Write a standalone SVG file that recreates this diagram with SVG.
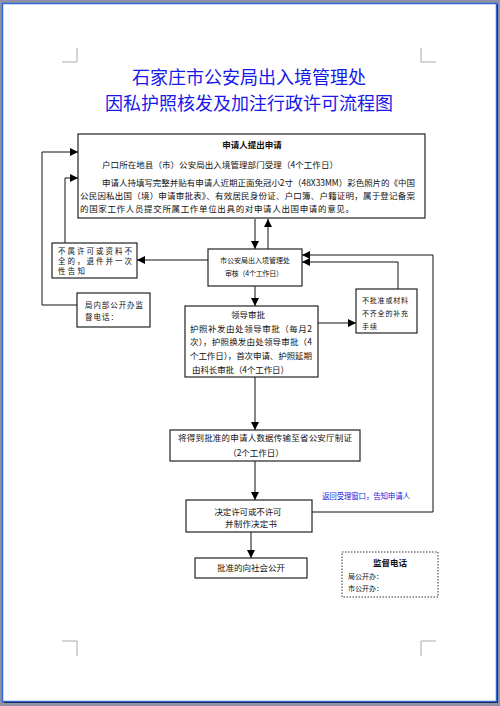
<svg xmlns="http://www.w3.org/2000/svg" width="500" height="706" viewBox="0 0 500 706">
<style>
.t{font-family:"Noto Sans CJK SC","Liberation Sans",sans-serif;font-size:8.5px;fill:#111}
.s{font-size:7px}
.m{font-size:7.5px}
.b{font-weight:bold}
.box{fill:#fff;stroke:#222;stroke-width:1.2}
.ln{fill:none;stroke:#111;stroke-width:1}
.title{font-family:"Noto Sans CJK SC","Liberation Sans",sans-serif;font-size:18px;fill:#1818e8;text-anchor:middle}
.mark{fill:none;stroke:#aaa;stroke-width:1}
</style>
<defs>
<marker id="ah" viewBox="0 0 10 10" refX="10" refY="5" markerWidth="8" markerHeight="8" markerUnits="userSpaceOnUse" orient="auto">
<path d="M0,0 L10,5 L0,10 z" fill="#000"/>
</marker>
</defs>
<rect x="0" y="0" width="500" height="706" fill="#8f92a6"/>
<rect x="4" y="4" width="494" height="699" fill="#1a1a30"/>
<rect x="2.5" y="3.5" width="494" height="698" fill="#fff" stroke="#2e68d2" stroke-width="1.5"/>
<g id="cornermarks">
<path class="mark" d="M77,48 V62 H62"/>
<path class="mark" d="M421,48 V62 H436"/>
<path class="mark" d="M62,641 H77 V656"/>
<path class="mark" d="M436,641 H421 V656"/>
</g>
<g id="title">
<text class="title" x="249" y="84">石家庄市公安局出入境管理处</text>
<text class="title" x="249" y="110">因私护照核发及加注行政许可流程图</text>
</g>
<g id="connectors">
<path class="ln" d="M65,243 V178 H78" marker-end="url(#ah)"/>
<path class="ln" d="M77,305 H42 V152 H78" marker-end="url(#ah)"/>
<path class="ln" d="M255,219 V249" marker-end="url(#ah)"/>
<path class="ln" d="M268,249 V219" marker-end="url(#ah)"/>
<path class="ln" d="M208,260 H137" marker-end="url(#ah)"/>
<path class="ln" d="M255,286 V306" marker-end="url(#ah)"/>
<path class="ln" d="M318,323 H356" marker-end="url(#ah)"/>
<path class="ln" d="M398,289 V262 H302" marker-end="url(#ah)"/>
<path class="ln" d="M312,512 H433 V255 H302" marker-end="url(#ah)"/>
<path class="ln" d="M255,377 V430" marker-end="url(#ah)"/>
<path class="ln" d="M255,461 V500" marker-end="url(#ah)"/>
<path class="ln" d="M251,532 V558" marker-end="url(#ah)"/>
<text class="t" x="322" y="499" style="fill:#1a1ae0;font-size:7.5px" textLength="88">返回受理窗口，告知申请人</text>
</g>
<g id="apply">
<rect class="box" x="78" y="134" width="347" height="84"/>
<text class="t b" x="252" y="148" text-anchor="middle">申请人提出申请</text>
<text class="t" x="102" y="168" textLength="236">户口所在地县（市）公安局出入境管理部门受理（4个工作日）</text>
<text class="t" x="102" y="186" textLength="313">申请人持填写完整并贴有申请人近期正面免冠小2寸（48X33MM）彩色照片的《中国</text>
<text class="t" x="80" y="199" textLength="335">公民因私出国（境）申请审批表》、有效居民身份证、户口簿、户籍证明，属于登记备案</text>
<text class="t" x="80" y="212" textLength="274">的国家工作人员提交所属工作单位出具的对申请人出国申请的意见。</text>
</g>
<g id="review">
<rect class="box" x="208" y="249" width="94" height="37"/>
<text class="t s" x="255" y="263" text-anchor="middle" textLength="70">市公安局出入境管理处</text>
<text class="t s" x="254" y="276" text-anchor="middle" textLength="58">审核（4个工作日）</text>
</g>
<g id="reject">
<rect class="box" x="52" y="243" width="85" height="35"/>
<text class="t m" x="58" y="254" textLength="74">不属许可或资料不</text>
<text class="t m" x="58" y="264" textLength="74">全的，退件并一次</text>
<text class="t m" x="58" y="274" textLength="27">性告知</text>
</g>
<g id="phone">
<rect class="box" x="77" y="293" width="73" height="34"/>
<text class="t m" x="85" y="308" textLength="58">局内部公开办监</text>
<text class="t m" x="85" y="320" textLength="33">督电话：</text>
</g>
<g id="leader">
<rect class="box" x="185" y="306" width="133" height="71"/>
<text class="t" x="248" y="318" text-anchor="middle">领导审批</text>
<text class="t" x="190" y="332" textLength="122">护照补发由处领导审批（每月2</text>
<text class="t" x="190" y="345" textLength="122">次），护照换发由处领导审批（4</text>
<text class="t" x="190" y="359" textLength="122">个工作日），首次申请、护照延期</text>
<text class="t" x="192" y="373" textLength="97">由科长审批（4个工作日）</text>
</g>
<g id="supplement">
<rect class="box" x="356" y="289" width="61" height="44"/>
<text class="t s" x="362" y="303" textLength="46">不批准或材料</text>
<text class="t s" x="362" y="316" textLength="46">不齐全的补充</text>
<text class="t s" x="362" y="329" textLength="15">手续</text>
</g>
<g id="transfer">
<rect class="box" x="170" y="430" width="190" height="31"/>
<text class="t" x="178" y="441" textLength="174">将得到批准的申请人数据传输至省公安厅制证</text>
<text class="t" x="256" y="456" text-anchor="middle">（2个工作日）</text>
</g>
<g id="decision">
<rect class="box" x="186" y="500" width="126" height="32"/>
<text class="t" x="248" y="515" text-anchor="middle" textLength="67">决定许可或不许可</text>
<text class="t" x="251" y="527" text-anchor="middle" textLength="52">并制作决定书</text>
</g>
<g id="publish">
<rect class="box" x="195" y="558" width="112" height="20"/>
<text class="t" x="251" y="571" text-anchor="middle" textLength="68">批准的向社会公开</text>
</g>
<g id="supervise">
<rect x="342" y="552" width="96" height="45" fill="#fff" stroke="#333" stroke-width="1" stroke-dasharray="1.5,1.5"/>
<text class="t b" x="390" y="566" text-anchor="middle">监督电话</text>
<text class="t s" x="348" y="579">局公开办：</text>
<text class="t s" x="348" y="591">市公开办：</text>
</g>
</svg>
